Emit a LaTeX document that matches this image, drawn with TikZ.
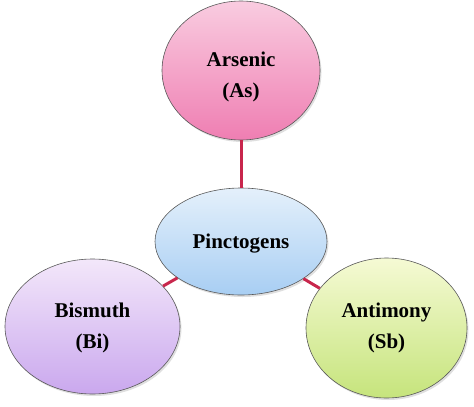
\documentclass[tikz,border=0pt]{standalone}
\usepackage{fontspec}
\setmainfont{Liberation Serif}
\usetikzlibrary{shapes.geometric,shadows}
\definecolor{linkred}{HTML}{C8264C}
\definecolor{asT}{HTML}{F9CCE0}
\definecolor{asB}{HTML}{EF7EB2}
\definecolor{pnT}{HTML}{E4F0FB}
\definecolor{pnB}{HTML}{A8CEF3}
\definecolor{biT}{HTML}{F3E7FA}
\definecolor{biB}{HTML}{CAA8EE}
\definecolor{sbT}{HTML}{F5FAD4}
\definecolor{sbB}{HTML}{C6E47C}
\tikzset{
  bubble/.style={ellipse, draw=black!65, line width=0.6pt, inner sep=0pt,
    drop shadow={opacity=0.25, shadow xshift=1.5pt, shadow yshift=-2pt}},
  link/.style={draw=linkred, line width=3pt},
  inlabel/.style={align=center, font=\bfseries\fontsize{21}{31}\selectfont},
}
\begin{document}
\begin{tikzpicture}[x=1pt,y=-1pt]
\useasboundingbox (0,0) rectangle (474,407);
\node[bubble, minimum width=158pt, minimum height=139pt,
  top color=asT, bottom color=asB,
  label={[inlabel, name=asL, yshift=-6pt]center:Arsenic\\(As)}] (as) at (241,70.5) {};
\node[bubble, minimum width=172pt, minimum height=107pt,
  top color=pnT, bottom color=pnB,
  label={[inlabel, name=pnL, yshift=-2pt]center:Pinctogens}] (pn) at (241,241.5) {};
\node[bubble, minimum width=175pt, minimum height=135pt,
  top color=biT, bottom color=biB,
  label={[inlabel, name=biL, yshift=-1pt]center:Bismuth\\(Bi)}] (bi) at (92.5,326.5) {};
\node[bubble, minimum width=161pt, minimum height=140pt,
  top color=sbT, bottom color=sbB,
  label={[inlabel, name=sbL, yshift=0pt]center:Antimony\\(Sb)}] (sb) at (386.5,328) {};
\draw[link] (as) -- (pn);
\draw[link] (pn) -- (bi);
\draw[link] (pn) -- (sb);
\end{tikzpicture}
\end{document}
